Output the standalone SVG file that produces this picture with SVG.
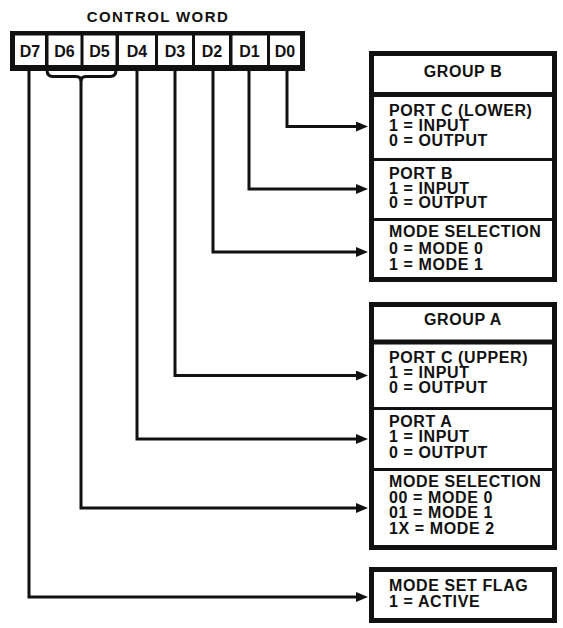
<svg xmlns="http://www.w3.org/2000/svg" width="563" height="628" viewBox="0 0 563 628">
<style>
  text { font-family: "Liberation Sans", Arial, sans-serif; font-weight: bold; fill: #111; }
  .title { font-size: 15px; letter-spacing: 1.4px; }
  .cell-label { font-size: 16px; text-anchor: middle; }
  .box-text { font-size: 16px; letter-spacing: 0.6px; }
  .head { font-size: 16px; letter-spacing: 0.6px; text-anchor: middle; }
  .frame { fill: #fff; stroke: #111; stroke-width: 5; }
  .thick { stroke: #111; stroke-width: 5; }
  .thin { stroke: #111; stroke-width: 3; }
  .cell { fill: #fff; }
  .conn { fill: none; stroke: #111; stroke-width: 3; }
</style>
<defs>
  <marker id="arrow" markerUnits="userSpaceOnUse" markerWidth="12" markerHeight="10" refX="2" refY="5" orient="auto">
    <path d="M0,0 L12,5 L0,10 z" fill="#111"/>
  </marker>
</defs>
<rect width="563" height="628" fill="#fff"/>

<g id="control-word">
  <text class="title" x="158" y="22" text-anchor="middle">CONTROL WORD</text>
  <rect x="10" y="31" width="295" height="40" fill="#111"/>
  <rect class="cell" x="15" y="35.5" width="30" height="29.5"/>
  <rect class="cell" x="48.5" y="35.5" width="32" height="29.5"/>
  <rect class="cell" x="83.5" y="35.5" width="32" height="29.5"/>
  <rect class="cell" x="119" y="35.5" width="36" height="29.5"/>
  <rect class="cell" x="158" y="35.5" width="34" height="29.5"/>
  <rect class="cell" x="195" y="35.5" width="34" height="29.5"/>
  <rect class="cell" x="232.5" y="35.5" width="34.5" height="29.5"/>
  <rect class="cell" x="270" y="35.5" width="30" height="29.5"/>
  <text class="cell-label" x="30" y="56.5">D7</text>
  <text class="cell-label" x="64.5" y="56.5">D6</text>
  <text class="cell-label" x="99.5" y="56.5">D5</text>
  <text class="cell-label" x="137" y="56.5">D4</text>
  <text class="cell-label" x="175" y="56.5">D3</text>
  <text class="cell-label" x="212" y="56.5">D2</text>
  <text class="cell-label" x="249.5" y="56.5">D1</text>
  <text class="cell-label" x="285" y="56.5">D0</text>
</g>

<g id="group-b">
  <rect class="frame" x="371.5" y="53.5" width="183" height="226"/>
  <line class="thick" x1="371.5" y1="94.5" x2="554.5" y2="94.5"/>
  <line class="thin" x1="371.5" y1="159.5" x2="554.5" y2="159.5"/>
  <line class="thin" x1="371.5" y1="219.5" x2="554.5" y2="219.5"/>
  <text class="head" x="463" y="77">GROUP B</text>
  <g id="port-c-lower">
    <text class="box-text" x="389" y="116">PORT C (LOWER)</text>
    <text class="box-text" x="389" y="131">1 = INPUT</text>
    <text class="box-text" x="389" y="146">0 = OUTPUT</text>
  </g>
  <g id="port-b">
    <text class="box-text" x="389" y="179">PORT B</text>
    <text class="box-text" x="389" y="193.5">1 = INPUT</text>
    <text class="box-text" x="389" y="208">0 = OUTPUT</text>
  </g>
  <g id="mode-selection-b">
    <text class="box-text" x="389" y="237">MODE SELECTION</text>
    <text class="box-text" x="389" y="253.5">0 = MODE 0</text>
    <text class="box-text" x="389" y="270">1 = MODE 1</text>
  </g>
</g>

<g id="group-a">
  <rect class="frame" x="371.5" y="304.5" width="183" height="243"/>
  <line class="thick" x1="371.5" y1="342" x2="554.5" y2="342"/>
  <line class="thin" x1="371.5" y1="408.5" x2="554.5" y2="408.5"/>
  <line class="thin" x1="371.5" y1="469.5" x2="554.5" y2="469.5"/>
  <text class="head" x="463" y="325">GROUP A</text>
  <g id="port-c-upper">
    <text class="box-text" x="389" y="363">PORT C (UPPER)</text>
    <text class="box-text" x="389" y="377.5">1 = INPUT</text>
    <text class="box-text" x="389" y="393">0 = OUTPUT</text>
  </g>
  <g id="port-a">
    <text class="box-text" x="389" y="427">PORT A</text>
    <text class="box-text" x="389" y="442">1 = INPUT</text>
    <text class="box-text" x="389" y="458">0 = OUTPUT</text>
  </g>
  <g id="mode-selection-a">
    <text class="box-text" x="389" y="487">MODE SELECTION</text>
    <text class="box-text" x="389" y="502.5">00 = MODE 0</text>
    <text class="box-text" x="389" y="518">01 = MODE 1</text>
    <text class="box-text" x="389" y="533.5">1X = MODE 2</text>
  </g>
</g>

<g id="mode-set-flag">
  <rect class="frame" x="371.5" y="569.5" width="183" height="51"/>
  <text class="box-text" x="389" y="591">MODE SET FLAG</text>
  <text class="box-text" x="389" y="607">1 = ACTIVE</text>
</g>

<g id="connectors">
  <path class="conn" d="M47,70 Q47,76.5 53,76.5 L76,76.5 Q81,76.5 81,81 Q81,76.5 86,76.5 L110,76.5 Q116,76.5 116,70"/>
  <path class="conn" d="M287,71 V126.5 H358" marker-end="url(#arrow)"/>
  <path class="conn" d="M249,71 V189 H358" marker-end="url(#arrow)"/>
  <path class="conn" d="M213,71 V252 H358" marker-end="url(#arrow)"/>
  <path class="conn" d="M175,71 V375.5 H358" marker-end="url(#arrow)"/>
  <path class="conn" d="M137,71 V439 H358" marker-end="url(#arrow)"/>
  <path class="conn" d="M81,79 V508 H358" marker-end="url(#arrow)"/>
  <path class="conn" d="M29,71 V597 H358" marker-end="url(#arrow)"/>
</g>
</svg>
